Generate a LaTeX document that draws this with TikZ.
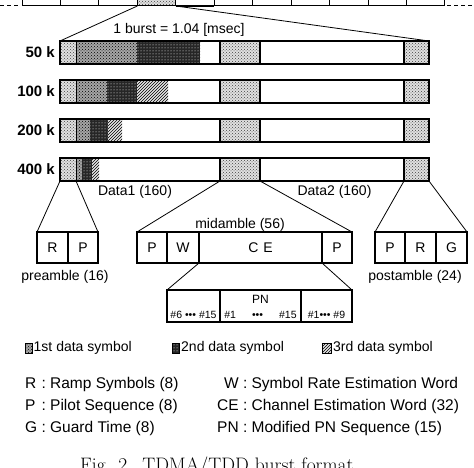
\documentclass[tikz,border=0pt]{standalone}
\usepackage{fontspec}
\newfontfamily\labfont{Liberation Sans}
\usetikzlibrary{patterns,positioning}

\begin{document}
\begin{tikzpicture}[x=1pt,y=-1pt,
    lab/.style={inner sep=0,font=\labfont\fontsize{14}{14}\selectfont},
    cell/.style={draw,line width=1.1pt,inner sep=0,outer sep=0,minimum height=31pt,font=\labfont\fontsize{14}{14}\selectfont},
    pncell/.style={cell,minimum height=32pt},
    pnnum/.style={inner sep=0,font=\labfont\fontsize{10.5}{10.5}\selectfont},
    lightseg/.style={preaction={fill=black!12},pattern=crosshatch dots,pattern color=black!75},
    firstsym/.style={preaction={fill=black!35},pattern=crosshatch dots,pattern color=black},
    secondsym/.style={preaction={fill=black!85},pattern=dots,pattern color=white},
    thirdsym/.style={preaction={fill=black!10},pattern=north east lines},
    keybox/.style={draw,line width=0.6pt,inner sep=0,outer sep=0,minimum width=7pt,minimum height=10pt},
    zoomline/.style={line width=0.8pt}]
  \useasboundingbox (0,0) rectangle (474,468);
  \clip (0,0) rectangle (474,468);

  \foreach \i in {0,...,10}
    \draw[line width=1pt] (22+38.45*\i,-10) rectangle (60.45+38.45*\i,6);
  \node[draw,line width=1pt,lightseg,minimum width=38.45pt,minimum height=16pt,inner sep=0,outer sep=0] (burst) at (156.58,-2) {};
  \draw[line width=2pt] (burst.south east) -- ++(38.45,0);
  \draw[line width=1pt,dash pattern=on 4pt off 3pt] (0,6) -- (20,6);
  \draw[line width=1pt,dash pattern=on 4pt off 3pt] (447,6) -- (474,6);

  \foreach \y/\k/\a/\b/\c/\nm in {41/50/137/200/200/b50,80/100/107/137/168/b100,119/200/90/108/122/b200,158/400/82/92/99/b400}{
    \fill[lightseg] (60,\y) rectangle (76,\y+23);
    \fill[firstsym] (76,\y) rectangle (\a,\y+23);
    \fill[secondsym] (\a,\y) rectangle (\b,\y+23);
    \fill[thirdsym] (\b,\y) rectangle (\c,\y+23);
    \fill[lightseg] (220,\y) rectangle (260,\y+23);
    \fill[lightseg] (404,\y) rectangle (429,\y+23);
    \node[draw,line width=1.1pt,minimum width=369pt,minimum height=23pt,inner sep=0,outer sep=0,anchor=north west] (\nm) at (60,\y) {};
    \draw[line width=0.6pt] (76,\y) -- (76,\y+23);
    \draw[line width=2pt] (220,\y) -- (220,\y+23);
    \draw[line width=1.6pt] (260,\y) -- (260,\y+23);
    \draw[line width=2pt] (404,\y) -- (404,\y+23);
    \node[anchor=east,inner sep=0,font=\labfont\bfseries\fontsize{15}{15}\selectfont] at (55,\y+11.5) {\k\ k};
  }
  \coordinate (preend) at (76,181);
  \coordinate (midstart) at (220,181);
  \coordinate (midend) at (260,181);
  \coordinate (poststart) at (404,181);

  \node[lab] (burstlen) at (179,30) {1 burst = 1.04 [msec]};
  \draw[zoomline] (burst.south west) -- (b50.north west);
  \draw[zoomline] (burst.south east) -- (b50.north east);

  \node[lab] (data1) at (135,192) {Data1 (160)};
  \node[lab] (data2) at (334.5,192) {Data2 (160)};
  \node[lab] (midlab) at (240,225) {midamble (56)};

  \node[cell,minimum width=31pt,anchor=north west] (preR) at (37,232) {R};
  \node[cell,minimum width=30pt,right=0pt of preR] (preP) {P};
  \node[cell,minimum width=30pt,anchor=north west] (midP1) at (137,232) {P};
  \node[cell,minimum width=32pt,right=0pt of midP1] (midW) {W};
  \node[cell,minimum width=123pt,right=0pt of midW] (midCE) {C\hspace{5pt}E};
  \node[cell,minimum width=30pt,right=0pt of midCE] (midP2) {P};
  \node[cell,minimum width=30pt,anchor=north west] (postP) at (375,232) {P};
  \node[cell,minimum width=31pt,right=0pt of postP] (postR) {R};
  \node[cell,minimum width=31pt,right=0pt of postR] (postG) {G};

  \draw[zoomline] (b400.south west) -- (preR.north west);
  \draw[zoomline] (preend) -- (preP.north east);
  \draw[zoomline] (midstart) -- (midP1.north west);
  \draw[zoomline] (midend) -- (midP2.north east);
  \draw[zoomline] (poststart) -- (postP.north west);
  \draw[zoomline] (b400.south east) -- (postG.north east);

  \node[lab] (prelab) at (65,277) {preamble (16)};
  \node[lab] (postlab) at (415,277) {postamble (24)};

  \node[pncell,minimum width=53pt,anchor=north west] (pnL) at (167,290) {};
  \node[pncell,minimum width=81pt,right=0pt of pnL] (pnM) {};
  \node[pncell,minimum width=51pt,right=0pt of pnM] (pnR) {};
  \draw[zoomline] (midCE.south west) -- (pnL.north west);
  \draw[zoomline] (midCE.south east) -- (pnR.north east);
  \node[inner sep=0,font=\labfont\fontsize{12}{12}\selectfont,below=5pt of pnM.north] (pnlab) {PN};
  \node[pnnum,above=3pt of pnL.south] (pnLnum) {\#6 ••• \#15};
  \node[pnnum,above=3pt of pnM.south] (pnMnum) {\#1\hspace{16pt}•••\hspace{16pt}\#15};
  \node[pnnum,above=3pt of pnR.south] (pnRnum) {\#1••• \#9};

  \node[keybox,firstsym] (key1) at (28.5,348) {};
  \node[lab,right=1.5pt of key1] (key1lab) {1st data symbol};
  \node[keybox,secondsym] (key2) at (176,348) {};
  \node[lab,right=1.5pt of key2] (key2lab) {2nd data symbol};
  \node[keybox,thirdsym,minimum width=9pt] (key3) at (327,348) {};
  \node[lab,right=1.5pt of key3] (key3lab) {3rd data symbol};

  \node[inner sep=0,anchor=west,font=\labfont\fontsize{15.5}{22}\selectfont] (abbrL) at (25,406)
    {\begin{tabular}{@{}l@{\ :\ }l@{}} R & Ramp Symbols (8)\\ P & Pilot Sequence (8)\\ G & Guard Time (8)\end{tabular}};
  \node[inner sep=0,anchor=west,font=\labfont\fontsize{15.5}{22}\selectfont] (abbrR) at (217,406)
    {\begin{tabular}{@{}r@{\ :\ }l@{}} W & Symbol Rate Estimation Word\\ CE & Channel Estimation Word (32)\\ PN & Modified PN Sequence (15)\end{tabular}};

  \node[anchor=base west,inner sep=0,font=\fontsize{19.5}{22}\selectfont] (caption) at (80,471.3) {Fig. 2\hspace{15pt}TDMA/TDD burst format};
\end{tikzpicture}
\end{document}
